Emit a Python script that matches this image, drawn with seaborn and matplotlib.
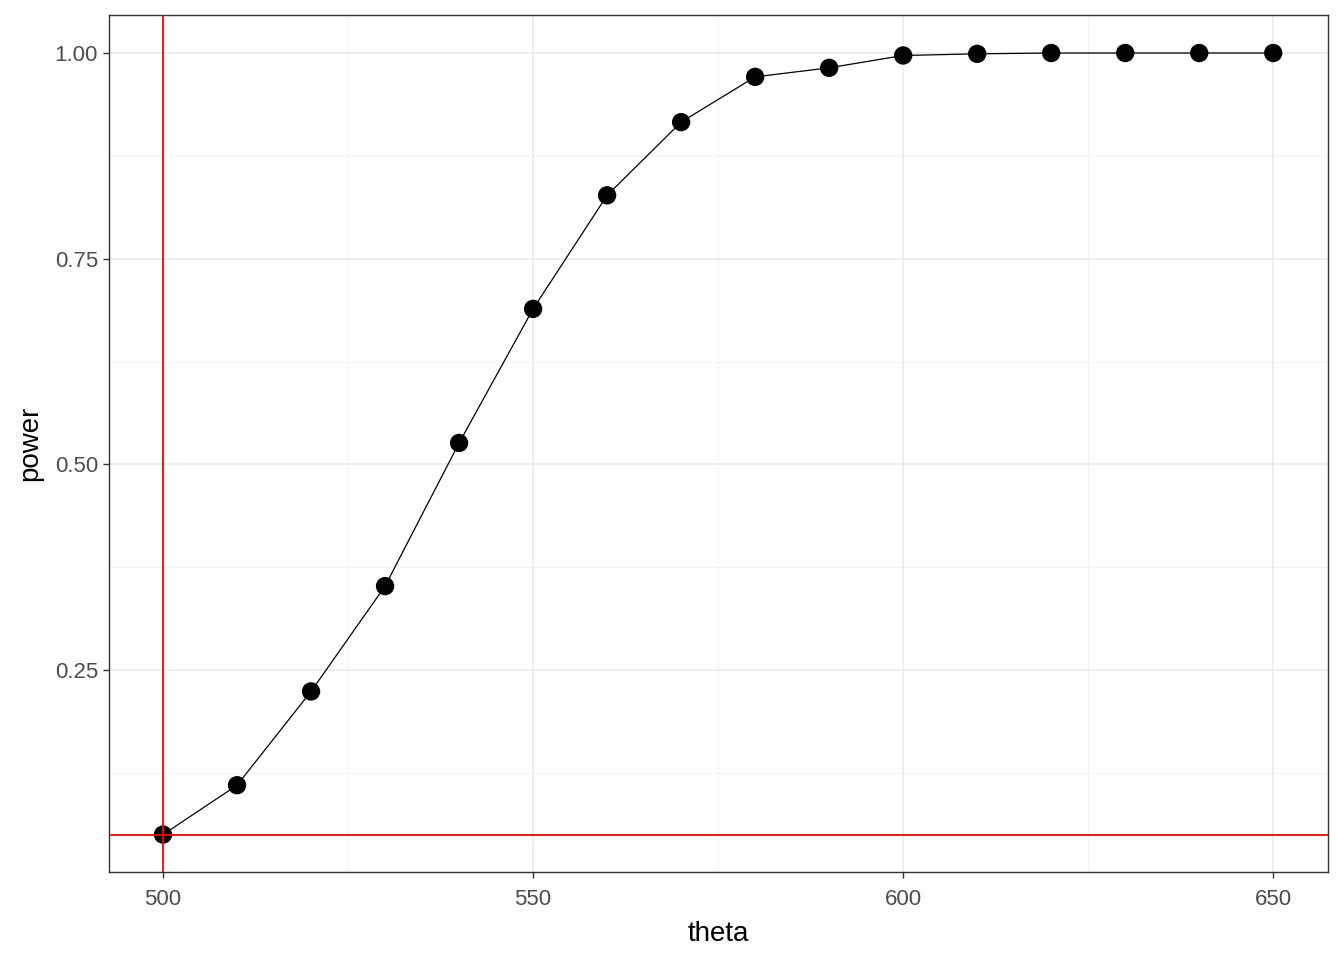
import numpy as np
import pandas as pd
import matplotlib.pyplot as plt
import seaborn as sns

theta = [500, 510, 520, 530, 540, 550, 560, 570, 580, 590, 600, 610, 620, 630, 640, 650]
power = [0.05, 0.110, 0.224, 0.352, 0.526, 0.689, 0.827, 0.916, 0.971, 0.982, 0.997, 0.999,
         1.0, 1.0, 1.0, 1.0]
alpha = 0.05
theta0 = 500

df = pd.DataFrame({"theta": theta, "power": power})

sns.set_style("white")
plt.rcParams["font.family"] = ["Liberation Sans", "DejaVu Sans"]

fig = plt.figure(figsize=(13.44, 9.6), dpi=100)
ax = fig.add_axes([109 / 1344, 1 - 872 / 960, (1328 - 109) / 1344, (872 - 15) / 960])

# grid like theme_bw
for v in [525, 575, 625]:
    ax.axvline(v, color="#f2f2f2", lw=0.6, zorder=0)
for v in [0.125, 0.375, 0.625, 0.875]:
    ax.axhline(v, color="#f2f2f2", lw=0.6, zorder=0)
for v in [500, 550, 600, 650]:
    ax.axvline(v, color="#ebebeb", lw=1.2, zorder=0)
for v in [0.25, 0.5, 0.75, 1.0]:
    ax.axhline(v, color="#ebebeb", lw=1.2, zorder=0)

sns.lineplot(data=df, x="theta", y="power", color="black", lw=0.9, ax=ax, zorder=2)
sns.scatterplot(data=df, x="theta", y="power", color="black", s=175, edgecolor="none",
                ax=ax, zorder=3)
ax.axhline(alpha, color="#ff0000", lw=1.3, zorder=4)
ax.axvline(theta0, color="#ff0000", lw=1.3, zorder=4)

ax.set_xlim(492.7, 657.4)
ax.set_ylim(0.0045, 1.0462)
ax.set_xticks([500, 550, 600, 650])
ax.set_yticks([0.25, 0.5, 0.75, 1.0])
ax.set_yticklabels(["0.25", "0.50", "0.75", "1.00"])

for s in ax.spines.values():
    s.set_color("#333333")
    s.set_linewidth(1.0)

ax.tick_params(axis="x", pad=8)
ax.tick_params(axis="y", pad=4)
ax.tick_params(axis="both", which="major", length=4, width=1.0, color="#333333",
               labelsize=16, labelcolor="#4d4d4d", direction="out",
               bottom=True, left=True)
ax.set_xlabel("theta", fontsize=20, color="black", labelpad=8)
ax.set_ylabel("power", fontsize=20, color="black", labelpad=8)

fig.savefig("out.png", dpi=100)
